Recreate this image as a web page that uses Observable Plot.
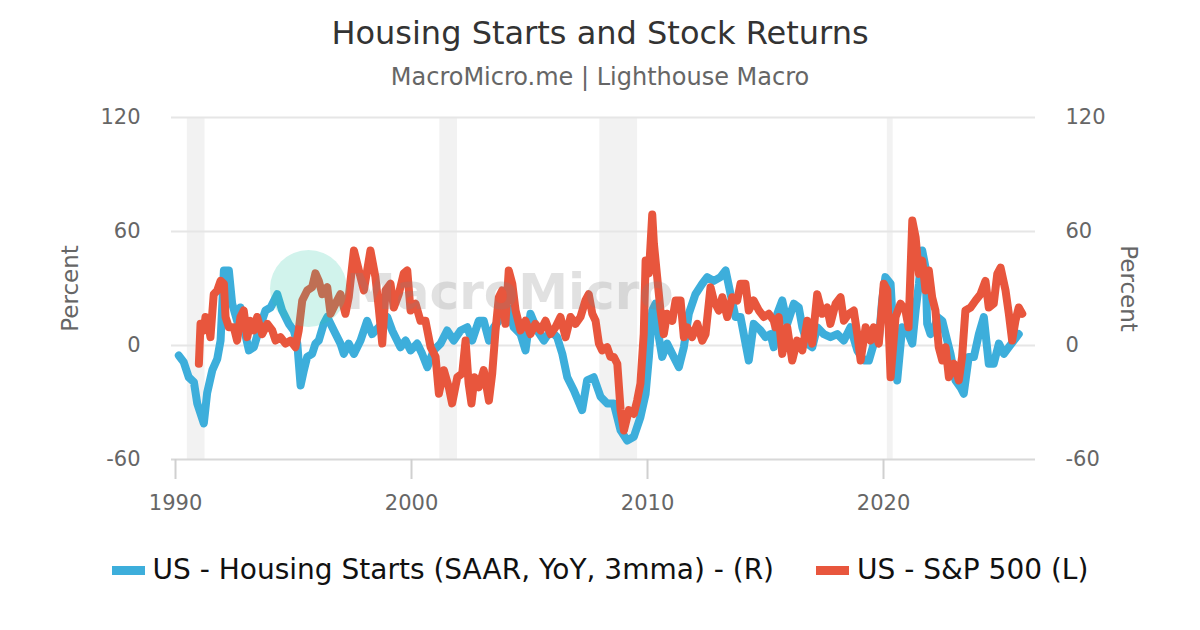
<!DOCTYPE html>
<html>
<head>
<meta charset="utf-8">
<script src="https://cdn.jsdelivr.net/npm/d3@7"></script>
<script src="https://cdn.jsdelivr.net/npm/@observablehq/plot@0.6"></script>
<style>
  body { margin: 0; background: #fff; font-family: "DejaVu Sans", sans-serif; }
  #wrap { position: relative; width: 1200px; height: 630px; overflow: hidden; }
  #title { position: absolute; left: 0; width: 1200px; top: 12px; line-height: 42px; font-size: 32px; color: #333; text-align: center; }
  #subtitle { position: absolute; left: 0; width: 1200px; top: 61px; line-height: 32px; font-size: 24px; color: #666; text-align: center; }
  #chart { position: absolute; left: 0; top: 100px; }
  #legend { position: absolute; left: 0; width: 1200px; top: 552px; line-height: 36px; font-size: 28px; color: #111;
            display: flex; justify-content: center; gap: 42px; }
  .item { display: flex; align-items: center; white-space: nowrap; }
  .sw { width: 33px; height: 9px; margin-right: 8px; }
  #logo { position: absolute; left: 270px; top: 250px; width: 77px; height: 77px; border-radius: 50%;
          background: rgba(46, 200, 170, 0.22); pointer-events: none; }
  #brand { position: absolute; left: 346px; top: 267px; font-size: 50px; line-height: 50px; font-weight: bold;
           color: rgba(128, 128, 128, 0.24); pointer-events: none; }
</style>
</head>
<body>
<div id="wrap">
  <div id="title">Housing Starts and Stock Returns</div>
  <div id="subtitle">MacroMicro.me | Lighthouse Macro</div>
  <div id="chart"></div>
  <div id="legend"></div>
  <div id="logo"></div>
  <div id="brand">MacroMicro</div>
</div>
<script>
// US housing starts, SAAR, YoY %, 3-month moving average (right axis)
const housingStarts = [
  [1990.14,-5.3],[1990.35,-8.8],[1990.56,-16.7],[1990.78,-19.3],[1990.92,-30.5],[1991.20,-41],[1991.34,-25],
  [1991.56,-13],[1991.77,-7],[1991.91,2.6],[1992.05,39.5],[1992.26,39.5],[1992.40,22],[1992.61,13],[1992.75,20],
  [1992.89,9.6],[1993.11,-2.6],[1993.32,-0.9],[1993.53,7.9],[1993.81,18.4],[1994.03,20],[1994.31,27],[1994.52,18.4],
  [1994.80,11.4],[1995.01,7.9],[1995.16,1],[1995.30,-21],[1995.44,-13],[1995.58,-6],[1995.79,-4.4],[1995.93,1],
  [1996.07,2.6],[1996.28,11.4],[1996.43,15],[1996.71,7.9],[1996.99,1],[1997.13,-4.4],[1997.34,1],[1997.56,-4.4],
  [1997.84,2.6],[1998.12,13],[1998.33,6],[1998.61,9.6],[1998.97,15],[1999.18,7.9],[1999.53,-0.9],[1999.75,2.6],
  [1999.96,-2.6],[2000.24,1],[2000.45,-4.4],[2000.67,-11.4],[2000.94,-2.6],[2001.23,1],[2001.51,7.9],[2001.79,2.6],
  [2002.08,7.9],[2002.36,9.6],[2002.57,2.6],[2002.85,13],[2003.06,13],[2003.28,2.6],[2003.49,9.6],[2003.70,13],
  [2003.91,18.4],[2004.12,19.5],[2004.33,9.6],[2004.62,6],[2004.83,-2.6],[2005.04,16.7],[2005.33,7.9],[2005.61,2.6],
  [2005.89,7.9],[2006.17,4.4],[2006.39,-4.4],[2006.60,-16.7],[2006.88,-23.7],[2007.23,-34],[2007.44,-18.4],
  [2007.72,-16.7],[2008.01,-27],[2008.29,-30.5],[2008.57,-30.5],[2008.86,-44.7],[2009.14,-50],[2009.42,-48],
  [2009.70,-37.7],[2009.92,-25.4],[2010.06,-6],[2010.20,18.4],[2010.34,22],[2010.48,4.4],[2010.62,-6],[2010.83,1],
  [2011.11,-6],[2011.33,-11.4],[2011.54,-0.9],[2011.75,16.7],[2012.03,27],[2012.32,32.5],[2012.53,36],[2012.81,34],
  [2013.09,36],[2013.31,39.5],[2013.52,27],[2013.73,15],[2013.94,15],[2014.29,-7.9],[2014.50,11.4],[2014.79,7.9],
  [2015.00,4.4],[2015.21,6],[2015.35,-0.9],[2015.50,16.7],[2015.71,23.7],[2015.92,11.4],[2016.20,22],[2016.41,20],
  [2016.56,9.6],[2016.77,1],[2016.98,-0.9],[2017.19,9.6],[2017.47,6],[2017.75,4.4],[2018.04,6],[2018.32,2.6],
  [2018.60,9.6],[2018.89,-2.6],[2019.17,-7.9],[2019.38,-7.9],[2019.59,1],[2019.80,2.6],[2019.94,23.7],[2020.08,36],
  [2020.30,32.5],[2020.44,2.6],[2020.58,-18.4],[2020.79,9.6],[2021.00,7.9],[2021.22,1],[2021.36,18.4],[2021.50,32.5],
  [2021.64,50],[2021.78,41],[2021.85,11.4],[2021.99,6],[2022.13,7.9],[2022.28,15],[2022.49,13],[2022.63,6],
  [2022.84,-4.4],[2023.05,-18.4],[2023.26,-22],[2023.40,-25.4],[2023.61,-6],[2023.83,-6],[2024.04,6],[2024.25,15],
  [2024.46,-9.6],[2024.67,-9.6],[2024.89,1],[2025.10,-4.4],[2025.31,-0.9],[2025.52,2.6],[2025.73,6]
];

// S&P 500, YoY % (left axis)
const sp500 = [
  [1990.99,-9.6],[1991.06,11.4],[1991.20,7.9],[1991.27,15],[1991.41,9.6],[1991.48,4.4],[1991.62,27],[1991.77,29],
  [1991.91,34],[1992.05,32.5],[1992.12,15],[1992.26,9.6],[1992.47,9.6],[1992.61,2.6],[1992.75,15],[1992.89,18.4],
  [1993.04,4.4],[1993.18,13],[1993.32,7.9],[1993.46,15],[1993.67,6],[1993.89,11.4],[1994.10,7.9],[1994.24,2.6],
  [1994.45,4.4],[1994.66,1],[1994.87,2.6],[1995.08,-0.9],[1995.22,7.9],[1995.37,23.7],[1995.58,29],[1995.79,30.7],
  [1995.93,38],[1996.07,34],[1996.22,27],[1996.43,30.7],[1996.57,16.7],[1996.78,22],[1996.99,27],[1997.20,16.7],
  [1997.34,25.4],[1997.56,50],[1997.77,39.5],[1997.98,29],[1998.26,50],[1998.47,36],[1998.61,20],[1998.76,1],
  [1998.90,29],[1999.11,32.5],[1999.25,20],[1999.46,27],[1999.67,38],[1999.82,39.5],[1999.96,18.4],[2000.17,22],
  [2000.38,13],[2000.59,13],[2000.81,-0.9],[2001.02,-6],[2001.16,-25.4],[2001.37,-13],[2001.58,-22],[2001.72,-30.5],
  [2001.94,-16.7],[2002.15,-14.7],[2002.29,2.6],[2002.42,-20],[2002.54,-30.5],[2002.67,-16.7],[2002.85,-22],
  [2003.06,-13],[2003.28,-29],[2003.42,-14.7],[2003.56,7.9],[2003.70,25.4],[2003.84,29],[2003.98,11.4],[2004.12,39.5],
  [2004.27,32.5],[2004.41,18.4],[2004.62,7.9],[2004.83,13],[2005.04,6],[2005.25,11.4],[2005.47,7.9],[2005.68,13],
  [2005.89,6],[2006.10,9.6],[2006.31,15],[2006.53,4.4],[2006.74,15],[2006.95,11.4],[2007.16,15],[2007.37,23.7],
  [2007.51,27],[2007.66,16.7],[2007.80,13],[2007.94,1],[2008.08,-2.6],[2008.29,-0.9],[2008.43,-6],[2008.57,-6],
  [2008.72,-9.6],[2008.86,-34],[2009.00,-44.7],[2009.21,-34],[2009.42,-36],[2009.56,-29],[2009.70,-20],[2009.84,6],
  [2009.92,44.7],[2010.06,38],[2010.20,69],[2010.27,53.7],[2010.41,36],[2010.55,18.4],[2010.69,6],[2010.83,16.7],
  [2011.05,13],[2011.19,23.7],[2011.40,23.7],[2011.54,4.4],[2011.68,9.6],[2011.89,4.4],[2012.11,11.4],[2012.32,2.6],
  [2012.46,6],[2012.67,30.7],[2012.81,23.7],[2013.02,18.4],[2013.17,25.4],[2013.38,15],[2013.59,25.4],[2013.80,23.7],
  [2013.94,32.5],[2014.15,32.5],[2014.29,18.4],[2014.50,23.7],[2014.72,18.4],[2014.93,15],[2015.14,16.7],[2015.35,13],
  [2015.42,9.6],[2015.56,15],[2015.71,-4.4],[2015.92,9.6],[2016.13,-7.9],[2016.34,2.6],[2016.56,-2.6],[2016.77,13],
  [2016.98,1],[2017.19,27],[2017.40,16.7],[2017.61,20],[2017.75,11.4],[2017.97,22],[2018.18,25.4],[2018.32,13],
  [2018.53,16.7],[2018.74,18.4],[2018.89,6],[2019.03,-7.9],[2019.24,9.6],[2019.45,2.6],[2019.59,9.6],[2019.80,1],
  [2020.01,32.5],[2020.16,29],[2020.30,-16.7],[2020.51,15],[2020.72,22],[2020.93,18.4],[2021.06,9.6],[2021.22,65.8],
  [2021.36,57],[2021.50,37.7],[2021.64,44.7],[2021.78,29],[2021.92,39.5],[2022.06,25.4],[2022.20,18.4],[2022.34,-0.9],
  [2022.49,-7.9],[2022.63,-0.9],[2022.77,-16.7],[2022.98,-9.6],[2023.19,-18.4],[2023.33,-6],[2023.47,18.4],
  [2023.69,20],[2023.90,23.7],[2024.11,27],[2024.32,34],[2024.46,20],[2024.67,22],[2024.82,37.7],[2024.96,41],
  [2025.17,29],[2025.31,16.7],[2025.45,2.6],[2025.59,13],[2025.73,20],[2025.88,16.7]
];

// US recessions (start, end) in decimal years
const recessions = [[1990.5, 1991.25], [2001.2, 2001.95], [2007.98, 2009.58], [2020.16, 2020.41]];

const xTicks = [1990, 2000, 2010, 2020];
const yTicks = [-60, 0, 60, 120];

const series = [
  {name: "US - Housing Starts (SAAR, YoY, 3mma) - (R)", color: "#3daedb"},
  {name: "US - S&P 500 (L)", color: "#e8563d"}
];

const plain = d => String(d);

const chart = Plot.plot({
  width: 1200,
  height: 420,
  marginTop: 17,
  marginBottom: 61,
  marginLeft: 171,
  marginRight: 165,
  style: {fontFamily: "DejaVu Sans", fontSize: "21px", background: "transparent"},
  x: {domain: [1989.83, 2026.44]},
  y: {domain: [-60, 120]},
  marks: [
    Plot.rect(recessions, {x1: d => d[0], x2: d => d[1], y1: -60, y2: 120, fill: "#f2f2f2"}),
    Plot.ruleY(yTicks.filter(v => v > -60), {stroke: "#e6e6e6", strokeWidth: 2}),
    Plot.ruleY([-60], {stroke: "#d8d8d8", strokeWidth: 2}),
    Plot.axisY({anchor: "left", ticks: yTicks, tickFormat: plain, tickSize: 0, tickPadding: 31,
                fill: "#666", fontSize: 21, label: null}),
    Plot.axisY({anchor: "right", ticks: yTicks, tickFormat: plain, tickSize: 0, tickPadding: 30,
                fill: "#666", fontSize: 21, label: null}),
    Plot.axisX({ticks: xTicks, tickFormat: plain, tickSize: 20, tickPadding: 16,
                stroke: "#d0d0d0", strokeWidth: 2, fill: "#666", fontSize: 21, label: null}),
    Plot.line(housingStarts, {x: d => d[0], y: d => d[1], stroke: series[0].color, strokeWidth: 8,
                              strokeLinejoin: "round", strokeLinecap: "round"}),
    Plot.line(sp500, {x: d => d[0], y: d => d[1], stroke: series[1].color, strokeWidth: 8,
                      strokeLinejoin: "round", strokeLinecap: "round"}),
    Plot.text(["Percent"], {frameAnchor: "left", textAnchor: "middle", rotate: -90, dx: -101, fill: "#666", fontSize: 23}),
    Plot.text(["Percent"], {frameAnchor: "right", textAnchor: "middle", rotate: 90, dx: 93, fill: "#666", fontSize: 23})
  ]
});
document.getElementById("chart").appendChild(chart);

// Legend row under the chart
const legend = document.getElementById("legend");
for (const s of series) {
  const item = document.createElement("div");
  item.className = "item";
  const sw = document.createElement("div");
  sw.className = "sw";
  sw.style.background = s.color;
  const label = document.createElement("span");
  label.textContent = s.name;
  item.appendChild(sw);
  item.appendChild(label);
  legend.appendChild(item);
}
</script>
</body>
</html>
